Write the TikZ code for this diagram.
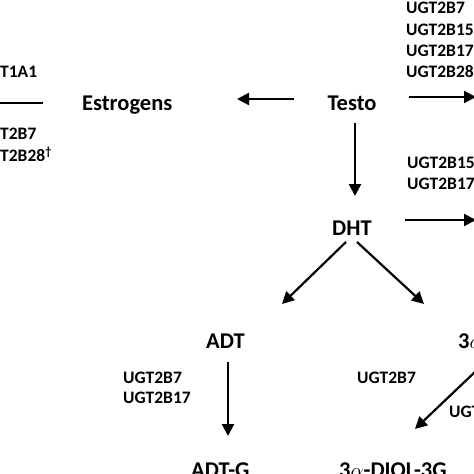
\documentclass[tikz,border=0pt]{standalone}
\usepackage{fontspec}
\setmainfont{Carlito}
\usetikzlibrary{arrows.meta}
\begin{document}
\begin{tikzpicture}[x=1pt,y=-1pt,
  mainlbl/.style={font=\fontsize{22.5}{26}\selectfont\bfseries,inner sep=0pt,anchor=base west},
  enzlbl/.style={font=\fontsize{17.5}{20}\selectfont\bfseries,inner sep=0pt,anchor=base west},
  conn/.style={line width=2.2pt,-{Triangle[length=12pt,width=12pt]}},
  plainconn/.style={line width=2.4pt}]
\useasboundingbox (0,0) rectangle (474,474);
\clip (0,0) rectangle (474,474);
% main compounds
\node[mainlbl] (estro) at (82,110) {Estrogens};
\node[mainlbl,anchor=base] (testo) at (352,110) {Testo};
\node[mainlbl,anchor=base] (dht) at (352,235) {DHT};
\node[mainlbl] (adt) at (206,348) {ADT};
\node[mainlbl] (adtg) at (191,477) {ADT-G};
\node[mainlbl] (diolg) at (339,477) {3$\alpha$-DIOL-3G};
\node[mainlbl] (diol) at (458,348) {3$\alpha$};
% enzyme labels
\node[enzlbl] (e1) at (0,77) {T1A1};
\node[enzlbl] (e2) at (0,139) {T2B7};
\node[enzlbl] (e3) at (0,161) {T2B28\raisebox{0.3em}{\fontsize{12}{12}\selectfont †}};
\node[enzlbl] (r1) at (406,13) {UGT2B7};
\node[enzlbl] (r2) at (406,35) {UGT2B15};
\node[enzlbl] (r3) at (406,56) {UGT2B17};
\node[enzlbl] (r4) at (406,77) {UGT2B28};
\node[enzlbl] (s1) at (407,168) {UGT2B15};
\node[enzlbl] (s2) at (407,189) {UGT2B17};
\node[enzlbl] (a1) at (123,383) {UGT2B7};
\node[enzlbl] (a2) at (123,403) {UGT2B17};
\node[enzlbl] (m1) at (357,383) {UGT2B7};
\node[enzlbl] (u1) at (449,417) {UGT};
% connector end points
\coordinate (lineL) at (0,103);
\coordinate (lineR) at (43,103);
\coordinate (tL) at (294,99);
\coordinate (eR) at (237,99);
\coordinate (tR) at (409,97);
\coordinate (gR) at (476,97);
\coordinate (tB) at (355,123);
\coordinate (dT) at (355,196);
\coordinate (dR) at (405,220);
\coordinate (hR) at (476,220);
\coordinate (dBL) at (346,242);
\coordinate (aT) at (282,304);
\coordinate (dBR) at (357,242);
\coordinate (xT) at (424,304);
\coordinate (adtB) at (228,362);
\coordinate (adtgT) at (228,436);
\coordinate (diolB) at (476,371);
\coordinate (diolgT) at (415,429);
% connectors
\draw[plainconn] (lineL) -- (lineR);
\draw[conn] (tL) -- (eR);
\draw[conn] (tR) -- (gR);
\draw[conn] (tB) -- (dT);
\draw[conn] (dR) -- (hR);
\draw[conn] (dBL) -- (aT);
\draw[conn] (dBR) -- (xT);
\draw[conn] (adtB) -- (adtgT);
\draw[conn] (diolB) -- (diolgT);
\end{tikzpicture}
\end{document}
